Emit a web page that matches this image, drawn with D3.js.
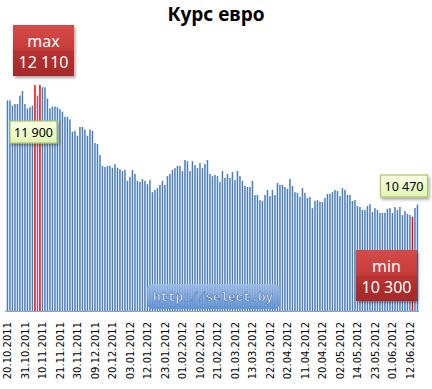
<!DOCTYPE html>
<html>
<head>
<meta charset="utf-8">
<script src="https://cdn.jsdelivr.net/npm/d3@7"></script>
<style>
body { margin: 0; background: #fff; }
svg { display: block; }
</style>
</head>
<body>
<script>
// Курс евро, daily rate (working days 20.10.2011 .. 15.06.2012)
var title = "Курс евро";
var rates = [
	11900, 11900, 11830, 11850, 11850, 11965, 12030, 11850, 11790, 11805,
	11830, 12110, 11965, 12110, 12080, 12080, 11925, 11790, 11815, 11815,
	11805, 11780, 11745, 11675, 11675, 11640, 11470, 11480, 11415, 11535,
	11535, 11500, 11415, 11500, 11480, 11315, 11300, 11150, 11000, 10985,
	11000, 11000, 10975, 11025, 10975, 10955, 10930, 10945, 10795, 10850,
	10945, 10890, 10795, 10780, 10820, 10795, 10750, 10805, 10640, 10670,
	10695, 10740, 10795, 10740, 10860, 10890, 10945, 10970, 11000, 11000,
	10930, 11080, 11065, 10930, 11065, 11010, 10970, 11040, 10970, 11025,
	11080, 10890, 10860, 10875, 10860, 10780, 10930, 10835, 10890, 10835,
	10915, 10805, 10930, 10860, 10795, 10725, 10710, 10710, 10795, 10600,
	10600, 10530, 10520, 10600, 10670, 10585, 10670, 10600, 10765, 10740,
	10740, 10710, 10685, 10820, 10725, 10640, 10630, 10575, 10695, 10630,
	10560, 10575, 10420, 10520, 10530, 10510, 10505, 10560, 10615, 10615,
	10640, 10670, 10655, 10585, 10695, 10670, 10600, 10600, 10520, 10530,
	10450, 10435, 10395, 10395, 10450, 10475, 10365, 10420, 10395, 10355,
	10355, 10355, 10410, 10420, 10355, 10435, 10395, 10435, 10325, 10380,
	10340, 10325, 10300, 10420, 10470
];
// one label every 7 bars
var tickLabels = [
	"20.10.2011", "31.10.2011", "10.11.2011", "21.11.2011", "30.11.2011",
	"09.12.2011", "20.12.2011", "03.01.2012", "12.01.2012", "23.01.2012",
	"01.02.2012", "10.02.2012", "21.02.2012", "01.03.2012", "13.03.2012",
	"22.03.2012", "02.04.2012", "11.04.2012", "20.04.2012", "02.05.2012",
	"14.05.2012", "23.05.2012", "01.06.2012", "12.06.2012"
];
var tickStep = 7;
var watermark = "http://select.by";

var W = 432, H = 389;
var svg = d3.select("body").append("svg").attr("width", W).attr("height", H);

var defs = svg.append("defs");
var rg = defs.append("linearGradient").attr("id", "redbox").attr("x1", 0).attr("y1", 0).attr("x2", 0).attr("y2", 1);
rg.append("stop").attr("offset", "0%").attr("stop-color", "#d44b49");
rg.append("stop").attr("offset", "48%").attr("stop-color", "#c63c3a");
rg.append("stop").attr("offset", "52%").attr("stop-color", "#b83231");
rg.append("stop").attr("offset", "100%").attr("stop-color", "#a52828");
var gg = defs.append("linearGradient").attr("id", "greenbox").attr("x1", 0).attr("y1", 0).attr("x2", 0).attr("y2", 1);
gg.append("stop").attr("offset", "0%").attr("stop-color", "#fbffe6");
gg.append("stop").attr("offset", "100%").attr("stop-color", "#e2f4b4");
var bg = defs.append("linearGradient").attr("id", "wm").attr("x1", 0).attr("y1", 0).attr("x2", 0).attr("y2", 1);
bg.append("stop").attr("offset", "0%").attr("stop-color", "#9fbde6").attr("stop-opacity", 0.85);
bg.append("stop").attr("offset", "100%").attr("stop-color", "#5d8fd2").attr("stop-opacity", 0.9);
var sh = defs.append("filter").attr("id", "shadow").attr("x", "-20%").attr("y", "-20%").attr("width", "150%").attr("height", "150%");
sh.append("feDropShadow").attr("dx", 1.5).attr("dy", 2).attr("stdDeviation", 1.5)
	.attr("flood-color", "#000").attr("flood-opacity", 0.35);

// scales
var x = d3.scaleBand()
	.domain(d3.range(rates.length))
	.range([6.2, 418.7])
	.paddingInner(0.4)
	.paddingOuter(0.2);
var y = d3.scaleLinear().domain([9000, 12500]).range([311.5, 56.7]);

var maxV = d3.max(rates), minV = d3.min(rates);
var iMax = rates.indexOf(maxV), iMin = rates.lastIndexOf(minV);
var iLast = rates.length - 1;

// title
svg.append("text")
	.attr("x", 216).attr("y", 21)
	.attr("text-anchor", "middle")
	.style("font-family", "'Noto Sans', sans-serif")
	.style("font-weight", "bold")
	.style("font-size", "19px")
	.text(title);

// bars
svg.append("g").selectAll("rect").data(rates).enter().append("rect")
	.attr("x", function (d, i) { return x(i); })
	.attr("width", x.bandwidth())
	.attr("y", function (d) { return y(d); })
	.attr("height", function (d) { return y(9000) - y(d); })
	.attr("fill", function (d) { return (d == maxV || d == minV) ? "#ff0000" : "#4a7ebb"; });

// axis line
svg.append("line")
	.attr("x1", 5).attr("x2", 419)
	.attr("y1", 311.5).attr("y2", 311.5)
	.attr("stroke", "#8ea3c4").attr("stroke-width", 1);

// tick labels
svg.append("g").selectAll("text").data(tickLabels).enter().append("text")
	.attr("transform", function (d, i) {
		return "translate(" + (x(i * tickStep) + x.bandwidth() / 2) + ",322) rotate(-90)";
	})
	.attr("text-anchor", "end")
	.attr("dy", "0.36em")
	.style("font-family", "'DejaVu Sans', sans-serif")
	.style("font-size", "10px")
	.attr("fill", "#000")
	.text(function (d) { return d; });

var fmt = function (v) { return d3.format(",")(v).replace(",", " "); };

// red callouts for max / min
function redBox(cx, top, word, v) {
	var g = svg.append("g");
	g.append("rect").attr("x", cx - 30.5).attr("y", top).attr("width", 61).attr("height", 51)
		.attr("fill", "url(#redbox)").attr("filter", "url(#shadow)");
	g.append("text").attr("x", cx).attr("y", top + 22).attr("text-anchor", "middle")
		.style("font-family", "'Noto Sans', sans-serif").style("font-size", "16px")
		.attr("fill", "#fff").text(word);
	g.append("text").attr("x", cx).attr("y", top + 43).attr("text-anchor", "middle")
		.style("font-family", "'Noto Sans', sans-serif").style("font-size", "16px")
		.attr("fill", "#fff").text(fmt(v));
}
redBox(43.5, 25, "max", maxV);
redBox(386.5, 250, "min", minV);

// green value labels (first and last)
function greenBox(cx, cy, v) {
	var g = svg.append("g");
	g.append("rect").attr("x", cx - 23.5).attr("y", cy - 11).attr("width", 47).attr("height", 22)
		.attr("fill", "url(#greenbox)").attr("stroke", "#a9c66a").attr("stroke-width", 1.2)
		.attr("filter", "url(#shadow)");
	g.append("text").attr("x", cx).attr("y", cy + 4.5).attr("text-anchor", "middle")
		.style("font-family", "'Noto Sans', sans-serif").style("font-size", "12.5px")
		.attr("fill", "#000").text(fmt(v));
}
greenBox(33.5, 132, rates[0]);
greenBox(404, 186, rates[iLast]);

// watermark
var wm = svg.append("g");
wm.append("rect").attr("x", 147).attr("y", 284).attr("width", 133).attr("height", 25).attr("rx", 6)
	.attr("fill", "url(#wm)");
wm.append("text").attr("x", 213).attr("y", 301).attr("text-anchor", "middle")
	.style("font-family", "'Liberation Mono', monospace").style("font-size", "12.5px")
	.style("font-weight", "bold")
	.attr("fill", "#fff").attr("stroke", "#3d6cb0").attr("stroke-width", 0.6)
	.text(watermark);
</script>
</body>
</html>
